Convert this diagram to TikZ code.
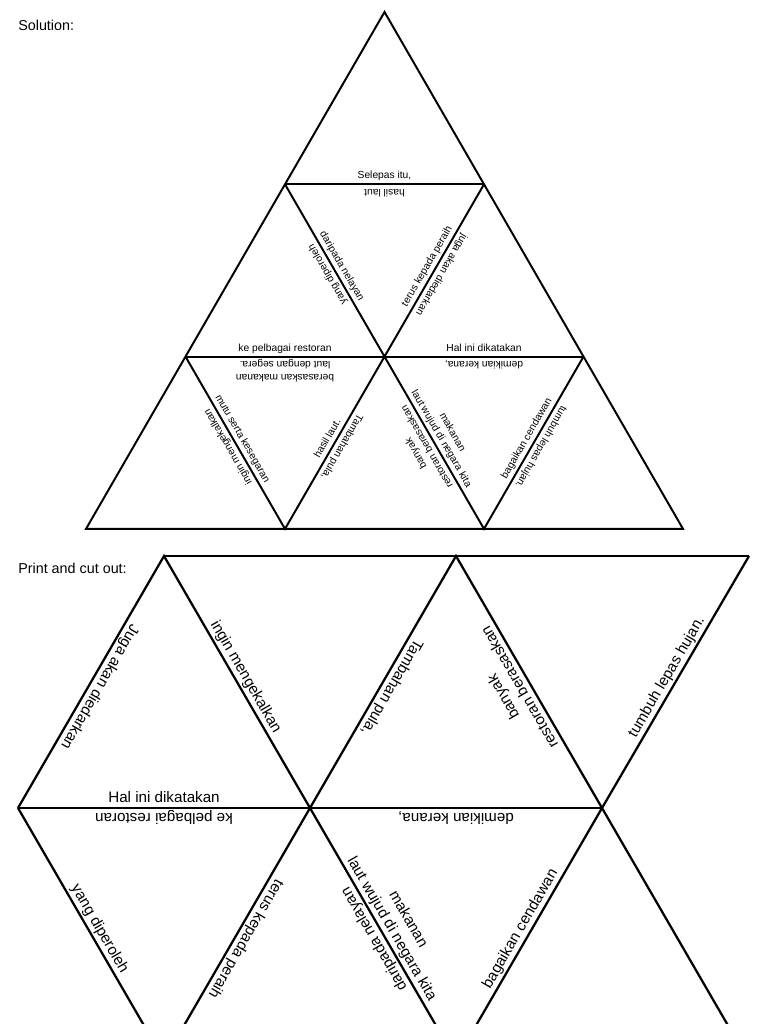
\documentclass[tikz,border=0pt]{standalone}
\usepackage{fontspec}
\setmainfont{Liberation Sans}
\newcommand{\twolines}[2]{\begin{tabular}[b]{@{}c@{}}#1\\#2\end{tabular}}
\tikzset{
    tri/.style={line width=1.4pt, line join=miter},
    piece/.style={line width=1.6pt, line join=miter},
    lbl/.style={midway, sloped, above, allow upside down, inner sep=4pt, text depth=0pt},
    sml/.style={lbl, inner sep=3.6pt, font=\fontsize{7.3}{9}\selectfont},
    big/.style={lbl, font=\fontsize{10.8}{13.5}\selectfont},
    heading/.style={anchor=base west, inner sep=0pt, font=\fontsize{10.2}{12}\selectfont}
}

\begin{document}
\begin{tikzpicture}[x=0.025cm, y=-0.025cm]
    \useasboundingbox (0,0) rectangle (768,1024);

    % solution
    \node[heading] (sol) at (18,31) {Solution:};
    \coordinate (t0) at (384.5,12);
    \coordinate (t1l) at (285,184.3);
    \coordinate (t1r) at (484,184.3);
    \coordinate (t2l) at (185.5,356.6);
    \coordinate (t2m) at (384.5,356.6);
    \coordinate (t2r) at (583.5,356.6);
    \coordinate (t3l) at (86,528.9);
    \coordinate (t3a) at (285,528.9);
    \coordinate (t3b) at (484,528.9);
    \coordinate (t3r) at (683,528.9);

    \draw[tri] (t0) -- (t3l) -- (t3r) -- cycle;
    \draw[tri] (t1l) -- (t1r) (t2l) -- (t2r);
    \draw[tri] (t1l) -- (t2m) -- (t1r);
    \draw[tri] (t2l) -- (t3a) -- (t2m) -- (t3b) -- (t2r);

    \path (t1l) -- node[sml] (selepas) {Selepas itu,} (t1r);
    \path (t1r) -- node[sml] (hasil) {hasil laut} (t1l);
    \path (t1l) -- node[sml] (daripada) {daripada nelayan} (t2m);
    \path (t2m) -- node[sml] (terus) {terus kepada peraih} (t1r);
    \path (t2l) -- node[sml] (kepel) {ke pelbagai restoran} (t2m);
    \path (t2m) -- node[sml] (yang) {yang diperoleh} (t1l);
    \path (t1r) -- node[sml] (juga) {juga akan diedarkan} (t2m);
    \path (t2m) -- node[sml] (halini) {Hal ini dikatakan} (t2r);
    \path (t3a) -- node[sml] (ingin) {ingin mengekalkan} (t2l);
    \path (t2m) -- node[sml] (beras) {\twolines{berasaskan makanan}{laut dengan segera.}} (t2l);
    \path (t2l) -- node[sml] (mutu) {mutu serta kesegaran} (t3a);
    \path (t3a) -- node[sml] (hasil2) {hasil laut.} (t2m);
    \path (t2m) -- node[sml] (tambah) {Tambahan pula,} (t3a);
    \path (t3b) -- node[sml] (banyak) {\twolines{banyak}{restoran berasaskan}} (t2m);
    \path (t2r) -- node[sml] (demik) {demikian kerana,} (t2m);
    \path (t2m) -- node[sml] (makan) {\twolines{makanan}{laut wujud di negara kita}} (t3b);
    \path (t3b) -- node[sml] (bagai) {bagaikan cendawan} (t2r);
    \path (t2r) -- node[sml] (tumbuh) {tumbuh lepas hujan.} (t3b);

    % cut-out strip
    \node[heading] (cut) at (18,573) {Print and cut out:};
    \coordinate (a) at (164,556);
    \coordinate (b) at (456,556);
    \coordinate (c) at (749,556);
    \coordinate (d) at (18,808);
    \coordinate (e) at (310,808);
    \coordinate (f) at (602,808);
    \coordinate (g) at (164,1060);
    \coordinate (h) at (456,1060);
    \coordinate (i) at (748,1060);

    \begin{scope}
        \clip (0,0) rectangle (768,1024);
        \draw[piece] (a) -- (c) (d) -- (f);
        \draw[piece] (d) -- (a) -- (e) -- (b) -- (f) -- (c);
        \draw[piece] (g) -- (e) -- (h) -- (f) -- (i);
        \draw[piece] (d) -- (g);
    \end{scope}

    \path (a) -- node[big] (cjuga) {Juga akan diedarkan} (d);
    \path (d) -- node[big] (chal) {Hal ini dikatakan} (e);
    \path (a) -- node[big] (cingin) {ingin mengekalkan} (e);
    \path (b) -- node[big] (ctambah) {Tambahan pula,} (e);
    \path (f) -- node[big] (cbanyak) {\twolines{banyak}{restoran berasaskan}} (b);
    \path (f) -- node[big] (ctumbuh) {tumbuh lepas hujan.} (c);
    \path (e) -- node[big] (ckepel) {ke pelbagai restoran} (d);
    \path (d) -- node[big] (cyang) {yang diperoleh} (g);
    \path (e) -- node[big] (cterus) {terus kepada peraih} (g);
    \path (h) -- node[big] (cdaripada) {daripada nelayan} (e);
    \path (f) -- node[big] (cdemik) {demikian kerana,} (e);
    \path (e) -- node[big] (cmakan) {\twolines{makanan}{laut wujud di negara kita}} (h);
    \path (h) -- node[big] (cbagai) {bagaikan cendawan} (f);
\end{tikzpicture}
\end{document}
